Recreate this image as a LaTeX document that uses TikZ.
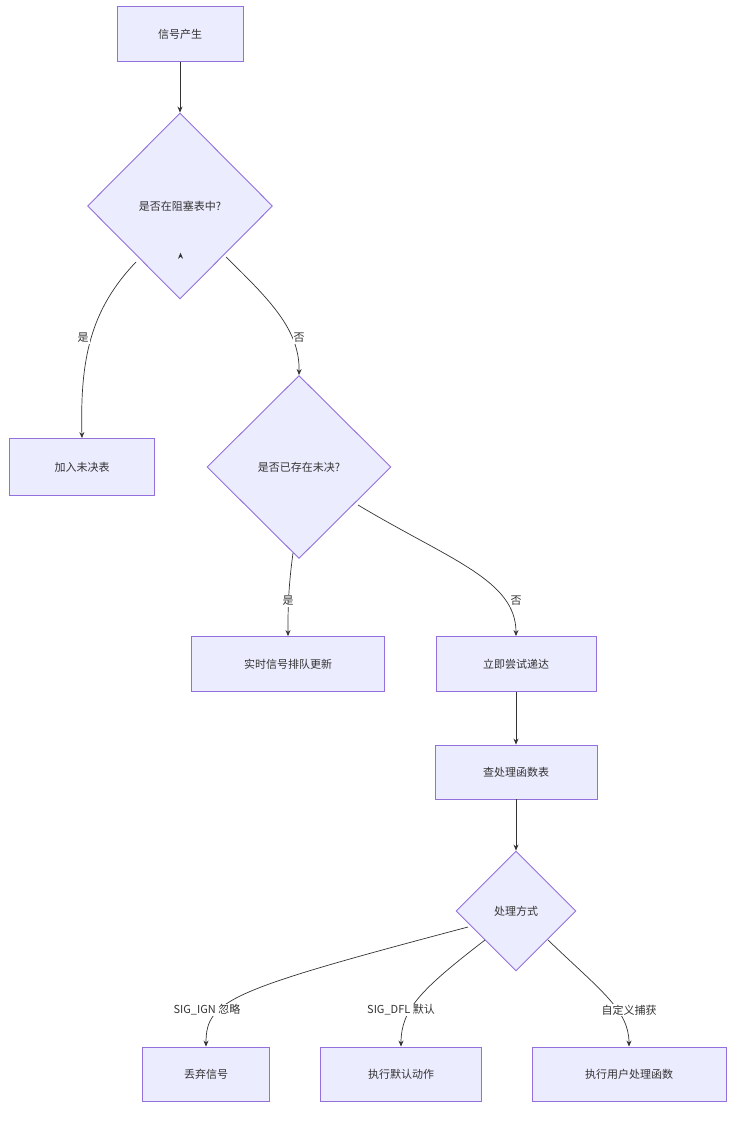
\documentclass[tikz,border=0pt]{standalone}
\usepackage{fontspec}
\setmainfont{Noto Sans CJK SC}
\usetikzlibrary{shapes.geometric,arrows.meta}
\definecolor{nf}{HTML}{ECECFF}
\definecolor{ns}{HTML}{9370DB}
\begin{document}
\begin{tikzpicture}[x=1pt,y=-1pt,
 box/.style={draw=ns,fill=nf,line width=0.9pt,minimum height=55pt,inner sep=0pt,font=\fontsize{11}{13}\selectfont,text=black!80},
 dia/.style={draw=ns,fill=nf,line width=0.9pt,diamond,inner sep=0pt,font=\fontsize{11}{13}\selectfont,text=black!80},
 lab/.style={fill=white,inner sep=1pt,font=\fontsize{11}{13}\selectfont,text=black!80},
 e/.style={draw=black!80,line width=0.7pt,-{Stealth[length=6pt,width=5pt]}}]
\useasboundingbox (0,0) rectangle (738,1123);
\node[box,minimum width=126pt] (a) at (180,34) {信号产生};
\node[dia,minimum width=185pt,minimum height=186pt] (b) at (180,206) {是否在阻塞表中?};
\node[box,minimum width=145pt,minimum height=57pt] (c) at (82,467) {加入未决表};
\node[dia,minimum width=184pt,minimum height=183pt] (d) at (299,467) {是否已存在未决?};
\node[box,minimum width=193pt] (f) at (288,664) {实时信号排队更新};
\node[box,minimum width=160pt] (g) at (516,664) {立即尝试递达};
\node[box,minimum width=162pt,minimum height=54pt] (h) at (516,772) {查处理函数表};
\node[dia,minimum width=120pt,minimum height=120pt] (i) at (516,911) {处理方式};
\node[box,minimum width=127pt,minimum height=54pt] (j) at (206,1074) {丢弃信号};
\node[box,minimum width=161pt,minimum height=54pt] (k) at (401,1074) {执行默认动作};
\node[box,minimum width=194pt,minimum height=54pt] (l) at (629,1074) {执行用户处理函数};
\draw[e] (a) -- (b);
\draw[e] (b.south west) ++(47,0) coordinate (bo1);
\draw[e] (136,262) .. controls (90,310) and (80,360) .. (c.north);
\draw[e] (226,257) .. controls (270,300) and (300,330) .. (d.north);
\draw[e] (293,553) .. controls (288,590) and (288,610) .. (f.north);
\draw[e] (358,505) .. controls (450,560) and (516,580) .. (g.north);
\draw[e] (g) -- (h);
\draw[e] (h) -- (i);
\draw[e] (468,927) .. controls (230,990) and (206,1000) .. (j.north);
\draw[e] (485,940) .. controls (420,990) and (401,1010) .. (k.north);
\draw[e] (548,940) .. controls (600,990) and (629,1010) .. (l.north);
\node[lab] at (83,338) {是};
\node[lab] at (299,338) {否};
\node[lab] at (288,601) {是};
\node[lab] at (516,601) {否};
\node[lab] at (207,1010) {SIG\_IGN 忽略};
\node[lab] at (401,1010) {SIG\_DFL 默认};
\node[lab] at (629,1010) {自定义捕获};
\end{tikzpicture}
\end{document}
